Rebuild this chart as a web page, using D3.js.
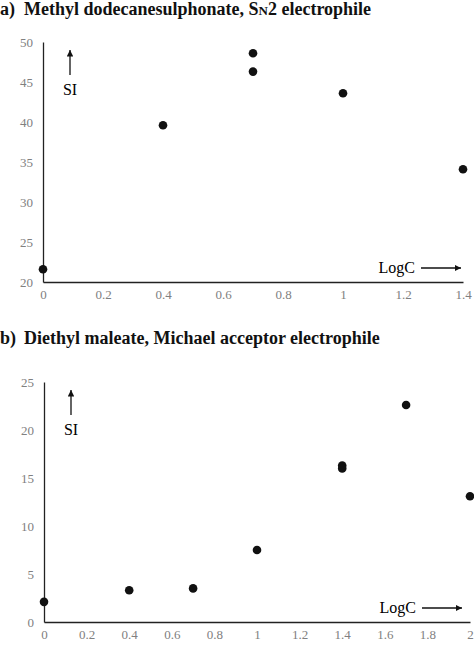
<!DOCTYPE html>
<html><head><meta charset="UTF-8">
<script src="https://d3js.org/d3.v7.min.js"></script>
<style>
body{margin:0;background:#fff;font-family:"Liberation Serif",serif;}
.title{font-weight:bold;font-size:18px;fill:#111;font-family:"Liberation Serif",serif;}
</style></head>
<body><svg id="c" width="474" height="656"></svg>
<script>
const aX = [0, 0.4, 0.7, 0.7, 1, 1.4];
const aY = [21.6, 39.6, 48.6, 46.3, 43.6, 34.1];
const bX = [0, 0.4, 0.7, 1, 1.4, 1.4, 1.7, 2];
const bY = [2.1, 3.3, 3.5, 7.5, 16.3, 16.0, 22.6, 13.1];
const aXTicks = [0,0.2,0.4,0.6,0.8,1,1.2,1.4];
const aYTicks = [20,25,30,35,40,45,50];
const bXTicks = [0,0.2,0.4,0.6,0.8,1,1.2,1.4,1.6,1.8,2];
const bYTicks = [0,5,10,15,20,25];

const svg = d3.select("#c");
svg.append("defs").append("marker").attr("id","ah").attr("viewBox","0 0 10 10")
  .attr("refX",10).attr("refY",5).attr("markerWidth",5).attr("markerHeight",5).attr("orient","auto")
  .append("path").attr("d","M0,0L10,5L0,10z").attr("fill","#111");

function styleAxis(s){
  s.attr("font-family","Liberation Serif, serif").attr("font-size",13);
  s.selectAll(".tick text").attr("fill","#808080");
  s.select(".domain").attr("stroke","#222").attr("stroke-width",1.3);
}

function panel(o){
  const g = svg.append("g");
  g.append("text").attr("class","title").attr("x",0).attr("y",o.ty).text(o.label);
  g.append("text").attr("class","title").attr("x",24).attr("y",o.ty).html(o.title);
  const x = d3.scaleLinear().domain(o.xd).range(o.xr);
  const y = d3.scaleLinear().domain(o.yd).range(o.yr);
  g.append("g").attr("transform",`translate(0,${o.yr[0]})`)
    .call(d3.axisBottom(x).tickValues(o.xt).tickSize(0).tickPadding(8).tickFormat(d3.format("")))
    .call(styleAxis);
  g.append("g").attr("transform",`translate(${o.xr[0]},0)`)
    .call(d3.axisLeft(y).tickValues(o.yt).tickSize(0).tickPadding(10))
    .call(styleAxis);
  g.selectAll("circle").data(o.xs).join("circle")
    .attr("cx",(d)=>x(d)).attr("cy",(d,i)=>y(o.ys[i])).attr("r",4.3).attr("fill","#111");
  // SI arrow
  const sx = o.xr[0]+27, top = o.yr[1]+8;
  g.append("line").attr("x1",sx).attr("x2",sx).attr("y1",top+25).attr("y2",top)
    .attr("stroke","#111").attr("stroke-width",1.3).attr("marker-end","url(#ah)");
  g.append("text").attr("x",sx).attr("y",top+45).attr("text-anchor","middle").attr("font-size",16).text("SI");
  const ly = o.yr[0]-14;
  g.append("text").attr("x",o.xr[0]+372).attr("y",ly+5).attr("text-anchor","end").attr("font-size",16).text("LogC");
  g.append("line").attr("x1",o.xr[0]+378).attr("x2",o.xr[0]+418).attr("y1",ly).attr("y2",ly)
    .attr("stroke","#111").attr("stroke-width",1.3).attr("marker-end","url(#ah)");
}
panel({label:"a)",title:"Methyl dodecanesulphonate, S<tspan font-size='13'>N</tspan>2 electrophile",ty:15,
  xd:[0,1.4],xr:[43,463],yd:[20,50],yr:[282,42],xt:aXTicks,yt:aYTicks,xs:aX,ys:aY});
panel({label:"b)",title:"Diethyl maleate, Michael acceptor electrophile",ty:344,
  xd:[0,2],xr:[44,470],yd:[0,25],yr:[622,382],xt:bXTicks,yt:bYTicks,xs:bX,ys:bY});
</script></body></html>
